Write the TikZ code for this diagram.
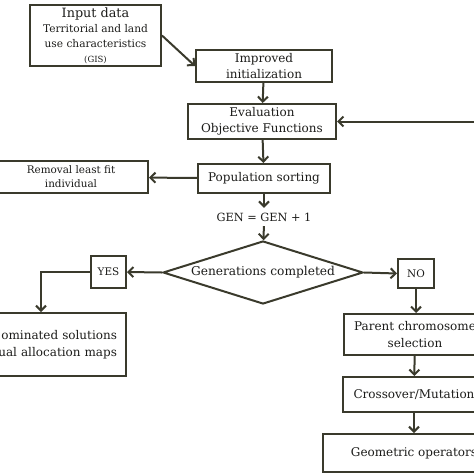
\documentclass[tikz,border=0pt]{standalone}
\usepackage{fontspec}
\setmainfont{DejaVu Serif}
\usetikzlibrary{arrows.meta,shapes.geometric}
\definecolor{edgecol}{RGB}{58,58,44}
\definecolor{txtcol}{RGB}{28,28,26}
\tikzset{
  box/.style={draw=edgecol,line width=2pt,rectangle,inner sep=0pt,align=center,
    text=txtcol,font=\fontsize{12}{16.5}\selectfont},
  decision/.style={draw=edgecol,line width=2pt,diamond,inner sep=0pt,shape aspect=3.17,
    text=txtcol,font=\fontsize{12.2}{16.5}\selectfont},
  arr/.style={draw=edgecol,line width=2pt,-{Straight Barb[length=5pt,width=10pt]}},
  link/.style={draw=edgecol,line width=2pt}
}
\begin{document}
\begin{tikzpicture}[x=1pt,y=-1pt]
  \useasboundingbox (0,0) rectangle (474,474);
  \clip (0,0) rectangle (474,474);
  \node[box,minimum width=131pt,minimum height=61pt,font=\fontsize{10.6}{15}\selectfont] (input) at (95.5,35.5)
    {{\fontsize{12.8}{15}\selectfont Input data}\\Territorial and land\\use characteristics\\{\fontsize{8.5}{13}\selectfont (GIS)}};
  \node[box,minimum width=136pt,minimum height=32pt] (init) at (264,66) {Improved\\initialization};
  \node[box,minimum width=148pt,minimum height=35pt] (eval) at (262,121.5) {Evaluation\\Objective Functions};
  \node[box,minimum width=132pt,minimum height=29pt] (pop) at (264,178.5) {Population sorting};
  \node[box,minimum width=154pt,minimum height=32pt,font=\fontsize{10.4}{14}\selectfont] (removal) at (71,177) {Removal least fit\\individual};
  \node[text=txtcol,inner sep=0pt,minimum height=18pt,font=\fontsize{11.3}{15}\selectfont] (gen) at (264,217) {GEN = GEN + 1};
  \node[decision,minimum width=200pt,minimum height=63pt] (dia) at (263,272.5) {Generations completed};
  \node[box,minimum width=35pt,minimum height=32pt,font=\fontsize{10.4}{13}\selectfont] (yes) at (108.5,272) {YES};
  \node[box,minimum width=36pt,minimum height=29pt,font=\fontsize{10.4}{13}\selectfont] (no) at (416,273.5) {NO};
  \node[box,minimum width=170pt,minimum height=63pt,inner xsep=9pt,text width=152pt,align=right] (sol) at (41,344.5)
    {ominated solutions\\ual allocation maps};
  \node[box,minimum width=142pt,minimum height=41pt] (parent) at (415,334.5) {Parent chromosome\\selection};
  \node[box,minimum width=142pt,minimum height=35pt] (cross) at (414,394.5) {Crossover/Mutation};
  \node[box,minimum width=182pt,minimum height=38pt] (geo) at (414,453) {Geometric operators};
  \coordinate (back) at (480,121.5);
  \draw[arr] (input.east) -- (init.west);
  \draw[arr] (init) -- (eval);
  \draw[arr] (back) -- (eval.east);
  \draw[arr] (eval) -- (pop);
  \draw[arr] (pop) -- (removal);
  \draw[arr] (pop) -- (gen);
  \draw[arr] (gen) -- (dia);
  \draw[arr] (dia.west) -- (yes.east);
  \draw[arr] (yes.west) -| (sol.north);
  \draw[arr] (dia.east) -- (no.west);
  \draw[arr] (no.south) -- (no.south |- parent.north);
  \draw[arr] (parent) -- (cross);
  \draw[arr] (cross) -- (geo);
\end{tikzpicture}
\end{document}
